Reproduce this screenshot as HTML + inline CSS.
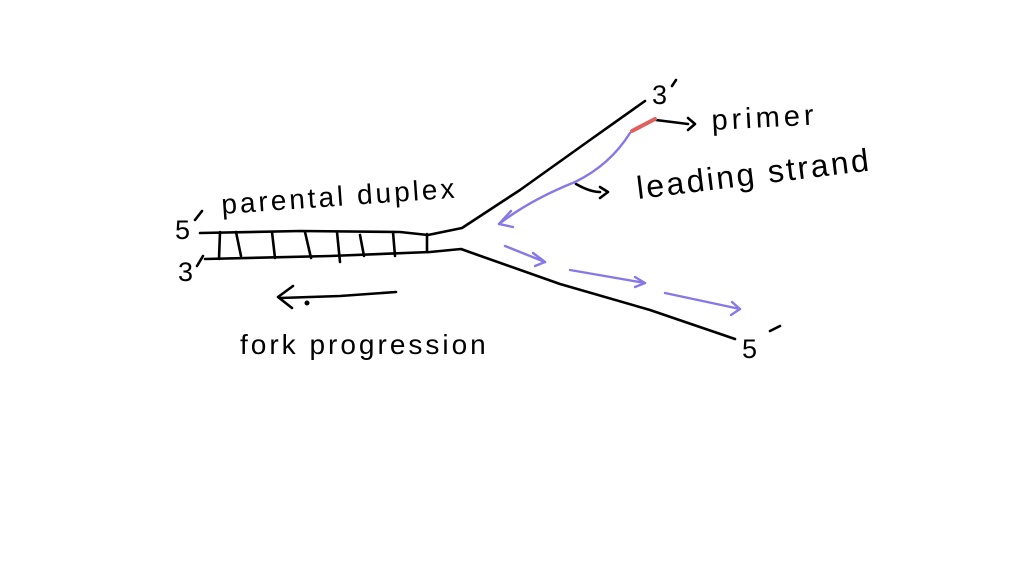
<!DOCTYPE html>
<html><head><meta charset="utf-8"><style>
html,body{margin:0;padding:0;background:#fff;width:1024px;height:576px;overflow:hidden}
svg{display:block}
text{font-family:"Liberation Sans",sans-serif;fill:#000}
</style></head><body>
<svg width="1024" height="576" viewBox="0 0 1024 576" xmlns="http://www.w3.org/2000/svg">
<g fill="none" stroke="#000" stroke-width="2.6" stroke-linecap="round" stroke-linejoin="round">
<path d="M200 233 L300 231 L400 232 L428 235 L462 228 L520 190 L590 140 L645 101"/>
<path d="M205 259 L330 256 L430 252 L461 249 L475 254 L560 284 L650 310 L735 339"/>
<path d="M220 232 L219 259"/><path d="M236 232 L241 256"/><path d="M272 232 L275 258"/>
<path d="M305 232 L311 258"/><path d="M337 232 L340 262"/><path d="M360 235 L364 256"/>
<path d="M393 232 L395 256"/><path d="M427 234 L427 252"/>
<path d="M396 292 L340 296 L280 298"/><path d="M293 286 L278 297 L292 308"/>
<circle cx="307" cy="303" r="1.2" fill="#000"/>
<path d="M656 120 L688 124"/><path d="M688 118 L695 124 L688 130"/>
<path d="M576 184 Q590 192 600 192"/><path d="M600 187 L608 192 L600 198"/>
<path d="M770 331 L780 326"/>
<path d="M672 86 L676 80"/>
<path d="M195 220 L202 211"/><path d="M197 266 L203 256"/>
</g>
<g fill="none" stroke="#8678e6" stroke-width="2.4" stroke-linecap="round" stroke-linejoin="round">
<path d="M630 133 Q610 165 575 182 Q530 200 499 224"/>
<path d="M511 211 L499 224 L513 227"/>
<path d="M505 246 L545 262"/><path d="M533 253 L545 262 L535 266"/>
<path d="M570 270 L645 283"/><path d="M635 277 L645 283 L635 287"/>
<path d="M665 293 L740 309"/><path d="M732 302 L740 309 L731 315"/>
</g>
<path d="M632 131 L655 119" stroke="#e06060" stroke-width="4" stroke-linecap="round"/>
<g font-size="27">
<text x="175" y="239">5</text><text x="178" y="281">3</text>
<text x="652" y="104">3</text><text x="742" y="358">5</text>
</g>
<text x="222" y="214" font-size="28" transform="rotate(-4 222 214)" letter-spacing="3">parental duplex</text>
<text x="240" y="354" font-size="28" letter-spacing="3">fork progression</text>
<text x="712" y="130" font-size="29" transform="rotate(-3 712 130)" letter-spacing="4">primer</text>
<text x="638" y="199" font-size="32" transform="rotate(-7 638 199)" letter-spacing="2.5">leading strand</text>
</svg>
</body></html>
